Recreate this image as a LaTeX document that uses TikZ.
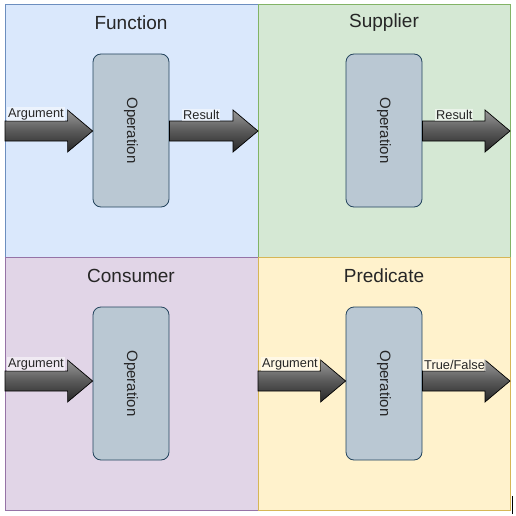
\documentclass[tikz,border=0pt]{standalone}
\usepackage{fontspec}
\setmainfont{Liberation Sans}
\usetikzlibrary{calc}
\definecolor{fbl}{HTML}{DAE8FC}\definecolor{sbl}{HTML}{6C8EBF}
\definecolor{fgr}{HTML}{D5E8D4}\definecolor{sgr}{HTML}{82B366}
\definecolor{fpu}{HTML}{E1D5E7}\definecolor{spu}{HTML}{9673A6}
\definecolor{fye}{HTML}{FFF2CC}\definecolor{sye}{HTML}{D6B656}
\definecolor{fop}{HTML}{BAC8D3}\definecolor{sop}{HTML}{23445D}
\newcommand\barrow[2]{%
  \path[arrowsty] let \p1=#1, \p2=#2 in
    (\x1,\y1+10pt) -- (\x2-25pt,\y1+10pt) -- (\x2-25pt,\y1+21pt) -- (\x2,\y1)
    -- (\x2-25pt,\y1-21pt) -- (\x2-25pt,\y1-10pt) -- (\x1,\y1-10pt) -- cycle;}
\tikzset{
  quad/.style={line width=0.8pt},
  opbox/.style={draw=sop, fill=fop, line width=0.8pt, rounded corners=8pt,
    minimum width=76pt, minimum height=153pt, inner sep=0pt},
  optext/.style={rotate=-90, font=\fontsize{15}{17}\selectfont, text=black!85},
  ttl/.style={font=\fontsize{19}{22}\selectfont, text=black!85},
  lbl/.style={font=\fontsize{12.8}{14}\selectfont, text=black!85, anchor=south west,
    inner sep=1pt, fill=white, fill opacity=0.5, text opacity=1},
  arrowsty/.style={draw=black, line width=0.7pt, line join=miter,
    top color=black!40, bottom color=black!85, middle color=black!65},
}
\begin{document}
\begin{tikzpicture}[x=1pt,y=-1pt]
\useasboundingbox (0,0) rectangle (515,516);
% quadrants
\draw[quad, fill=fbl, draw=sbl] (5,4) rectangle (258,257);
\draw[quad, fill=fgr, draw=sgr] (258,4) rectangle (510,257);
\draw[quad, fill=fpu, draw=spu] (5,257) rectangle (258,510);
\draw[quad, fill=fye, draw=sye] (258,257) rectangle (510,510);
% titles
\node[ttl] (tf) at (131,23) {Function};
\node[ttl] (ts) at (384,23) {Supplier};
\node[ttl] (tc) at (131,276) {Consumer};
\node[ttl] (tp) at (384,276) {Predicate};
% operation boxes
\node[opbox] (opA) at (131,130.5) {};
\node[opbox] (opB) at (384,130.5) {};
\node[opbox] (opC) at (131,383.5) {};
\node[opbox] (opD) at (384,383.5) {};
\node[optext] (otA) at (opA) {Operation};
\node[optext] (otB) at (opB) {Operation};
\node[optext] (otC) at (opC) {Operation};
\node[optext] (otD) at (opD) {Operation};
% free ends
\coordinate (inA) at (5,131);
\coordinate (outA) at (258,131);
\coordinate (outB) at (510,131);
\coordinate (inC) at (5,381);
\coordinate (inD) at (258,381);
\coordinate (outD) at (510,381);
% arrows
\barrow{(inA)}{(opA.west |- inA)}
\barrow{(opA.east |- inA)}{(outA)}
\barrow{(opB.east |- outB)}{(outB)}
\barrow{(inC)}{(opC.west |- inC)}
\barrow{(inD)}{(opD.west |- inD)}
\barrow{(opD.east |- outD)}{(outD)}
% labels
\node[lbl] (lA) at (7,121) {Argument};
\node[lbl] (lR) at (182,121) {Result};
\node[lbl] (lS) at (435,121) {Result};
\node[lbl] (lC) at (7,371) {Argument};
\node[lbl] (lD) at (261,371) {Argument};
\node[lbl] (lT) at (423,371) {True/False};
% cursor mark
\draw[line width=1.6pt] (512.5,496) -- (512.5,514);
\end{tikzpicture}
\end{document}
